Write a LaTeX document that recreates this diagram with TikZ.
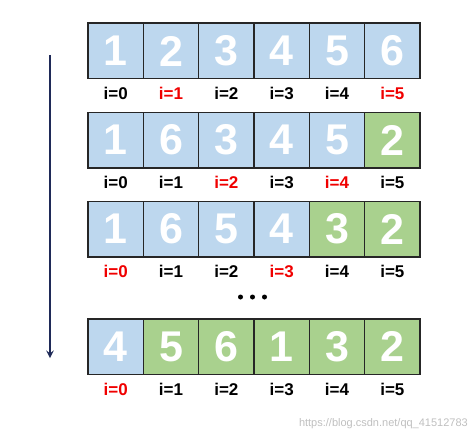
\documentclass[tikz,border=0pt]{standalone}
\usepackage{fontspec}
\setmainfont{Liberation Sans}
\usetikzlibrary{arrows,positioning}
\definecolor{cellblue}{RGB}{189,215,238}
\definecolor{cellgreen}{RGB}{169,209,142}
\definecolor{idxred}{RGB}{240,0,0}
\definecolor{arrownavy}{RGB}{31,42,88}
\tikzstyle{cell} = [draw=black!85, line width=1.5pt, minimum width=55.3pt, minimum height=55.5pt, inner sep=0pt, text=white, font=\fontsize{43}{43}\selectfont\bfseries]
\tikzstyle{idx} = [inner sep=0pt, font=\fontsize{17}{17}\selectfont\bfseries]
\tikzstyle{arrow} = [line width=2.2pt,->,>=stealth,color=arrownavy]

\begin{document}
\begin{tikzpicture}[x=1pt, y=-1pt]
\useasboundingbox (0,0) rectangle (474,436);

% Row 1
\foreach \v/\f [count=\k from 0] in {1/cellblue,2/cellblue,3/cellblue,4/cellblue,5/cellblue,6/cellblue}
  \node[cell, fill=\f] (a\k) at (115.7+55.33*\k, 51) {\v};
\foreach \k/\c in {0/black,1/idxred,2/black,3/black,4/black,5/idxred}
  \node[idx, text=\c] (ai\k) at ([yshift=-14pt]a\k.south) {i=\k};

% Row 2
\foreach \v/\f [count=\k from 0] in {1/cellblue,6/cellblue,3/cellblue,4/cellblue,5/cellblue,2/cellgreen}
  \node[cell, fill=\f] (b\k) at (115.7+55.33*\k, 140) {\v};
\foreach \k/\c in {0/black,1/black,2/idxred,3/black,4/idxred,5/black}
  \node[idx, text=\c] (bi\k) at ([yshift=-14pt]b\k.south) {i=\k};

% Row 3
\foreach \v/\f [count=\k from 0] in {1/cellblue,6/cellblue,5/cellblue,4/cellblue,3/cellgreen,2/cellgreen}
  \node[cell, fill=\f] (c\k) at (115.7+55.33*\k, 229) {\v};
\foreach \k/\c in {0/idxred,1/black,2/black,3/idxred,4/black,5/black}
  \node[idx, text=\c] (ci\k) at ([yshift=-14pt]c\k.south) {i=\k};

% Dots
\foreach \k in {0,1,2}
  \node[circle, fill=black, inner sep=0pt, minimum size=5pt] (dot\k) at (240.5+12*\k, 297) {};

% Row 4
\foreach \v/\f [count=\k from 0] in {4/cellblue,5/cellgreen,6/cellgreen,1/cellgreen,3/cellgreen,2/cellgreen}
  \node[cell, fill=\f] (d\k) at (115.7+55.33*\k, 346.5) {\v};
\foreach \k/\c in {0/idxred,1/black,2/black,3/black,4/black,5/black}
  \node[idx, text=\c] (di\k) at ([yshift=-14pt]d\k.south) {i=\k};

% Direction
\coordinate (top) at (50,55);
\coordinate (bottom) at (50,358);
\draw[arrow] (top) -- (bottom);

% Watermark
\node[anchor=east, inner sep=0pt, text=black!25, font=\fontsize{11}{11}\selectfont] (mark) at (468,424) {https://blog.csdn.net/qq\_41512783};
\end{tikzpicture}
\end{document}
